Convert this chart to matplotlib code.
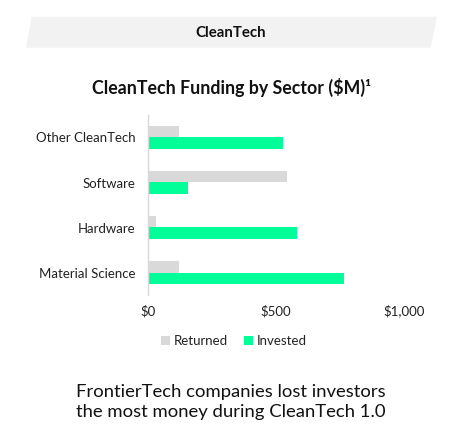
import matplotlib
matplotlib.use('Agg')
import matplotlib.pyplot as plt
from matplotlib.patches import Polygon
import numpy as np

# ─── Data ────────────────────────────────────────────────────────────────────
sectors = ['Material Science', 'Hardware', 'Software', 'Other CleanTech']
returned = [122, 31, 543, 122]
invested = [764, 582, 156, 528]
xticks = [0, 500, 1000]
xtick_labels = ['$0', '$500', '$1,000']

GREEN = '#00FF99'
GRAY = '#D9D9D9'
FONT = 'Lato'

plt.rcParams['font.family'] = [FONT, 'DejaVu Sans']

fig = plt.figure(figsize=(4.61, 4.44), dpi=100)

# header band (slanted)
band = Polygon([(31.7 / 461, 1 - 16.7 / 444), (437 / 461, 1 - 16.7 / 444),
                (430.7 / 461, 1 - 47.7 / 444), (26 / 461, 1 - 47.7 / 444)],
               closed=True, transform=fig.transFigure, facecolor='#F2F2F2',
               edgecolor='none')
fig.patches.append(band)
fig.text(231 / 461, 1 - 33 / 444, 'CleanTech', ha='center', va='center',
         fontsize=10.8, fontweight='bold', color='#111111')

fig.text(232 / 461, 1 - 87 / 444, 'CleanTech Funding by Sector ($M)¹',
         ha='center', va='center', fontsize=12.8, fontweight='bold',
         color='#111111')

ax = fig.add_axes([147.7 / 461, 1 - 295 / 444, (404.5 - 147.7) / 461,
                   (295 - 115) / 444])

y = np.arange(len(sectors))
h = 0.25
ax.barh(y + h / 2, returned, height=h, color=GRAY, label='Returned')
ax.barh(y - h / 2, invested, height=h, color=GREEN, label='Invested')

ax.set_xlim(0, 1000)
ax.set_ylim(-0.5, len(sectors) - 0.5)
ax.set_yticks(y)
ax.set_yticklabels(sectors, fontsize=9.5, color='#222222')
ax.set_xticks(xticks)
ax.set_xticklabels(xtick_labels, fontsize=9.5, color='#222222')
ax.tick_params(axis='both', length=0)
ax.tick_params(axis='y', pad=9)
ax.tick_params(axis='x', pad=7)
for s in ['top', 'right', 'bottom']:
    ax.spines[s].set_visible(False)
ax.spines['left'].set_color(GRAY)
ax.spines['left'].set_linewidth(1)

ax.legend(loc='upper center', bbox_to_anchor=(0.335, -0.155), ncol=2,
          frameon=False, fontsize=9.5, handlelength=0.7, handleheight=0.7,
          handletextpad=0.3, columnspacing=1.2, labelcolor='#222222')

fig.text(231 / 461, 1 - 392 / 444,
         'FrontierTech companies lost investors', ha='center', va='center',
         fontsize=13.3, color='#111111')
fig.text(231 / 461, 1 - 412 / 444,
         'the most money during CleanTech 1.0', ha='center', va='center',
         fontsize=13.3, color='#111111')

fig.savefig('out.png', dpi=100, facecolor='white')
